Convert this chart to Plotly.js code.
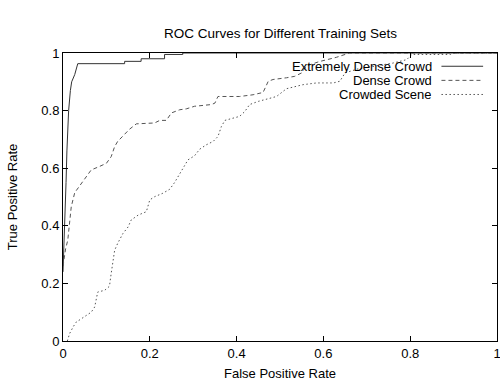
<!DOCTYPE html>
<html><head><meta charset="utf-8">
<script src="https://cdn.plot.ly/plotly-3.0.1.min.js"></script>
<style>html,body{margin:0;padding:0;background:#fff}#c{width:500px;height:381px}</style>
</head><body><div id="c"></div>
<script>
const seriesNames = ["Extremely Dense Crowd", "Dense Crowd", "Crowded Scene"];
const extremeX = [0,0.001,0.003,0.005,0.007,0.009,0.011,0.013,0.017,0.02,0.027,0.034,0.142,0.142,0.18,0.18,0.234,0.234,0.276,0.276,1];
const extremeY = [0.24,0.28,0.33,0.4,0.55,0.66,0.745,0.8,0.87,0.9,0.925,0.963,0.963,0.971,0.971,0.98,0.98,0.995,0.995,1,1];
const denseX = [0,0.003,0.006,0.011,0.015,0.019,0.027,0.034,0.042,0.054,0.065,0.084,0.1,0.111,0.119,0.126,0.138,0.153,0.169,0.211,0.223,0.238,0.25,0.269,0.284,0.303,0.342,0.35,0.357,0.407,0.438,0.461,0.473,0.484,0.515,0.534,0.55,0.561,0.59,0.63,0.66,1];
const denseY = [0.26,0.29,0.32,0.35,0.41,0.466,0.515,0.53,0.545,0.571,0.594,0.606,0.617,0.64,0.675,0.693,0.712,0.735,0.754,0.757,0.766,0.766,0.792,0.803,0.806,0.815,0.821,0.826,0.849,0.849,0.855,0.863,0.902,0.908,0.914,0.919,0.931,0.955,0.97,0.985,1,1];
const crowdedX = [0.01,0.015,0.023,0.03,0.042,0.054,0.065,0.073,0.077,0.08,0.096,0.107,0.111,0.115,0.119,0.126,0.138,0.15,0.157,0.173,0.192,0.2,0.211,0.23,0.246,0.257,0.269,0.28,0.288,0.303,0.315,0.33,0.346,0.357,0.365,0.373,0.392,0.407,0.419,0.43,0.45,0.473,0.492,0.515,0.553,0.584,0.623,0.638,0.646,0.65,0.68,0.72,0.76,0.792,0.804,0.892,0.9,1];
const crowdedY = [0,0.025,0.048,0.065,0.077,0.089,0.1,0.118,0.153,0.17,0.176,0.19,0.234,0.28,0.315,0.339,0.373,0.396,0.42,0.437,0.449,0.49,0.501,0.513,0.527,0.55,0.58,0.606,0.629,0.643,0.666,0.681,0.693,0.71,0.745,0.766,0.774,0.78,0.797,0.821,0.832,0.84,0.849,0.876,0.89,0.896,0.896,0.902,0.919,0.931,0.945,0.955,0.965,0.977,0.995,0.995,1,1];
const tickVals = [0,0.2,0.4,0.6,0.8,1];
const tickText = ["0","0.2","0.4","0.6","0.8","1"];

const styles = [
  {color:"#333", dash:"solid"},
  {color:"#555", dash:"4px,3px"},
  {color:"#555", dash:"1.5px,2.5px"}
];
const xs = [extremeX, denseX, crowdedX];
const ys = [extremeY, denseY, crowdedY];
const traces = seriesNames.map((n,i)=>({
  x: xs[i], y: ys[i], name: n, type:"scatter", mode:"lines",
  line:{color:styles[i].color, dash:styles[i].dash, width:1}, showlegend:false
}));

const font = {family:"Liberation Sans, Arial, sans-serif", size:13, color:"#000"};
const legY = [0.954, 0.905, 0.856];
const annotations = seriesNames.map((n,i)=>({
  x:0.852, y:legY[i], xref:"x", yref:"y", text:n, showarrow:false,
  xanchor:"right", yanchor:"middle", font:font, height:14, borderpad:0, valign:"middle"
}));
const shapes = seriesNames.map((n,i)=>({
  type:"line", xref:"x", yref:"y", x0:0.872, x1:0.968, y0:legY[i], y1:legY[i],
  line:{color:styles[i].color, dash:styles[i].dash, width:1}
}));

const axisCommon = {
  range:[0,1], tickvals:tickVals, ticktext:tickText, ticks:"inside", ticklen:5,
  tickcolor:"#000", tickwidth:1, showline:true, linecolor:"#000", linewidth:1,
  mirror:"ticks", showgrid:false, zeroline:false, tickfont:font, fixedrange:true,
  ticklabeloverflow:"allow"
};

const layout = {
  width:500, height:381,
  margin:{l:63, r:3, t:53, b:40},
  paper_bgcolor:"#fff", plot_bgcolor:"#fff",
  font:font,
  title:{text:"ROC Curves for Different Training Sets", font:Object.assign({}, font, {size:13.5}), x:0.561, xanchor:"center", y:0.912, yanchor:"middle"},
  xaxis:Object.assign({}, axisCommon, {title:{text:"False Positive Rate", font:font, standoff:9}}),
  yaxis:Object.assign({}, axisCommon, {title:{text:"True Positive Rate", font:font, standoff:20}}),
  annotations:annotations, shapes:shapes
};
Plotly.newPlot("c", traces, layout, {staticPlot:true, displayModeBar:false});
</script></body></html>
